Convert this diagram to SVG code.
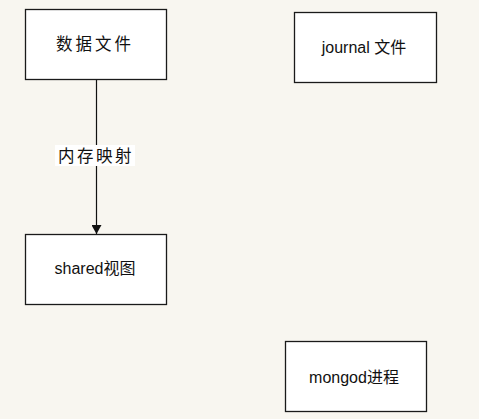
<svg xmlns="http://www.w3.org/2000/svg" width="479" height="419" viewBox="0 0 479 419">
<defs>
<style>
.box{fill:#ffffff;stroke:#1a1a1a;stroke-width:1.3}
.t{font-family:"Liberation Sans","Noto Sans CJK SC",sans-serif;fill:#111;text-anchor:middle;dominant-baseline:central}
.edge{stroke:#111;stroke-width:1.2;fill:none}
</style>
<marker id="arr" markerWidth="10" markerHeight="10" refX="9" refY="5" orient="auto" markerUnits="userSpaceOnUse">
<path d="M0,0 L9,5 L0,10 Z" fill="#111"/>
</marker>
</defs>
<rect width="479" height="419" fill="#f8f6f0"/>
<g id="edges">
<line class="edge" x1="96.5" y1="79" x2="96.5" y2="234" marker-end="url(#arr)"/>
<rect x="55" y="145" width="80" height="21" fill="#ffffff"/>
<text class="t" x="96" y="155.5" font-size="16.5" letter-spacing="2.5">内存映射</text>
</g>
<g id="data-file">
<rect class="box" x="25.5" y="9.5" width="141" height="70"/>
<text class="t" x="95" y="44" font-size="16.5" letter-spacing="3">数据文件</text>
</g>
<g id="journal-file">
<rect class="box" x="294.5" y="12.5" width="142" height="70"/>
<text class="t" x="364" y="47" font-size="16">journal 文件</text>
</g>
<g id="shared-view">
<rect class="box" x="25.5" y="234.5" width="141" height="70"/>
<text class="t" x="95" y="268.5" font-size="16">shared视图</text>
</g>
<g id="mongod">
<rect class="box" x="285.5" y="341.5" width="141" height="70"/>
<text class="t" x="354" y="377" font-size="16">mongod进程</text>
</g>
</svg>
